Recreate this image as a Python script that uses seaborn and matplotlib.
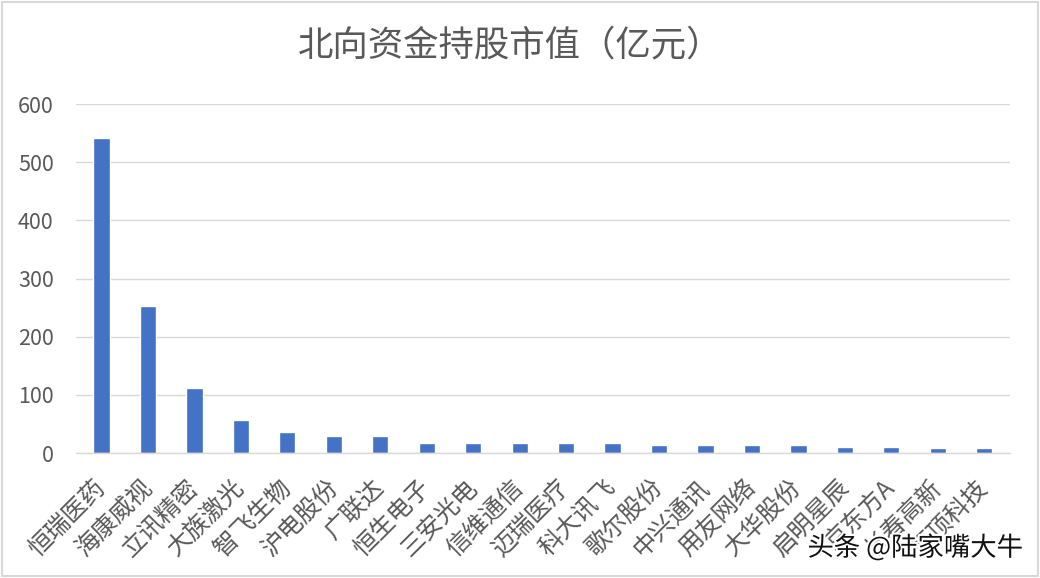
import matplotlib
matplotlib.use("Agg")
import matplotlib.pyplot as plt
import matplotlib.patheffects as pe
import seaborn as sns
import pandas as pd

categories = ["恒瑞医药", "海康威视", "立讯精密", "大族激光", "智飞生物", "沪电股份", "广联达",
              "恒生电子", "三安光电", "信维通信", "迈瑞医疗", "科大讯飞", "歌尔股份", "中兴通讯",
              "用友网络", "大华股份", "启明星辰", "京东方A", "长春高新", "汇顶科技"]
values = [541, 253, 112, 57, 36, 29, 29, 18, 18, 18, 18, 18, 14, 14, 14, 14, 11, 11, 8, 8]
yticks = [0, 100, 200, 300, 400, 500, 600]
title = "北向资金持股市值（亿元）"
watermark = "头条 @陆家嘴大牛"

sns.set_theme(style="white")
plt.rcParams['font.family'] = ['Noto Sans CJK SC', 'DejaVu Sans']

df = pd.DataFrame({"name": categories, "value": values})

fig = plt.figure(figsize=(10.4, 5.78), dpi=100)
ax = fig.add_axes([0.073, 0.216, 0.898, 0.604])
sns.barplot(data=df, x="name", y="value", color="#4472C4", width=0.35, ax=ax, saturation=1)

ax.set_ylim(0, 600)
ax.set_yticks(yticks)
ax.set_yticklabels([str(v) for v in yticks], color="#595959", fontsize=15.5)
ax.yaxis.grid(True, color="#D9D9D9", linewidth=1)
ax.set_axisbelow(True)
ax.set_xlabel("")
ax.set_ylabel("")
for s in ["top", "right", "left"]:
    ax.spines[s].set_visible(False)
ax.spines["bottom"].set_color("#D9D9D9")
ax.spines["bottom"].set_linewidth(1)
ax.tick_params(axis="both", length=0)
ax.tick_params(axis="y", pad=16)
ax.tick_params(axis="x", pad=22)
ax.set_xticks(range(len(categories)))
ax.set_xticklabels(categories, rotation=45, ha="right", va="center", rotation_mode="anchor",
                   color="#595959", fontsize=17.5)
ax.set_xlim(-0.55, len(categories) - 0.45)

fig.text(0.49, 0.922, title, ha="center", va="center", fontsize=25.5, color="#595959")
fig.text(0.88, 0.052, watermark, ha="center", va="center", fontsize=19, color="#111111",
         path_effects=[pe.withStroke(linewidth=3, foreground="white")])

border = plt.Rectangle((0.002, 0.003), 0.996, 0.994, transform=fig.transFigure,
                       fill=False, edgecolor="#D9D9D9", linewidth=1.5)
fig.patches.append(border)

fig.savefig("out.png", dpi=100)
